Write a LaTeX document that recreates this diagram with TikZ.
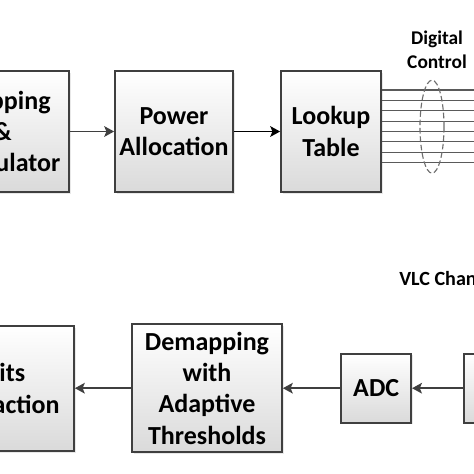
\documentclass[tikz,border=0pt]{standalone}
\usepackage{fontspec}
\setmainfont{Carlito}
\usetikzlibrary{arrows.meta,shapes.geometric,shadows}
\definecolor{Edge}{HTML}{3F3F3F}
\definecolor{Shade}{HTML}{DADADA}
\definecolor{Wire}{HTML}{5A5A5A}
\definecolor{Ring}{HTML}{6E6E6E}

\begin{document}
\begin{tikzpicture}[x=0.025cm,y=-0.025cm,
    block/.style={draw=Edge,line width=1.2pt,top color=white,bottom color=Shade,
      drop shadow={shadow xshift=1.2pt,shadow yshift=-1.2pt,opacity=.18},
      inner sep=0pt,align=center,font=\fontsize{18.5}{22.3}\selectfont\bfseries},
    flow/.style={Edge,line width=1.4pt,-{Stealth[length=7pt,width=7.5pt,inset=1.5pt]}},
    bus/.style={Wire,line width=.8pt},
    tag/.style={inner sep=0pt,font=\fontsize{13.8}{17}\selectfont\bfseries}]
  \useasboundingbox (0,0) rectangle (474,474);
  \clip (0,0) rectangle (474,474);
  \fill[white] (0,0) rectangle (474,474);
  % transmitter chain
  \node[block,minimum width=3.325cm,minimum height=3.025cm] (map) at (2.5,131.5) {Mapping\\\&\\Modulator};
  \node[block,minimum width=2.95cm,minimum height=3.025cm] (power) at (174,131.5) {Power\\Allocation};
  \node[block,minimum width=2.5cm,minimum height=3.025cm] (lut) at (331,131.5) {Lookup\\Table};
  \draw[flow] (map.east) -- (power.west);
  \draw[flow,black] (power.east) -- (lut.west);
  \foreach \k in {0,...,7} {
    \coordinate (end\k) at (480,{90+10.37*\k});
    \draw[bus] (lut.east |- end\k) -- (end\k);
  }
  \node[ellipse,draw=Ring,line width=.8pt,dash pattern=on 4pt off 2pt,inner sep=0pt,
    minimum width=0.6cm,minimum height=2.325cm] (grp) at (432,126.7) {};
  \node[tag,align=center] (ctl) at (437,50) {Digital\\Control};
  % receiver chain
  \node[tag,anchor=base west,font=\fontsize{14.3}{17}\selectfont\bfseries] (vlc) at (399,285.7) {VLC Channel};
  \node[block,minimum width=3.45cm,minimum height=3.125cm] (bits) at (5,388.5) {Bits\\Extraction};
  \node[block,minimum width=3.75cm,minimum height=3.2cm] (demap) at (207,388.2) {Demapping\\with\\Adaptive\\Thresholds};
  \node[block,minimum width=1.75cm,minimum height=1.725cm] (adc) at (376.2,388.2) {ADC};
  \node[block,minimum width=1.75cm,minimum height=1.725cm] (rx) at (499.3,388.2) {};
  \draw[flow] (rx.west) -- (adc.east);
  \draw[flow] (adc.west) -- (demap.east);
  \draw[flow] (demap.west) -- (bits.east |- demap.west);
\end{tikzpicture}
\end{document}
